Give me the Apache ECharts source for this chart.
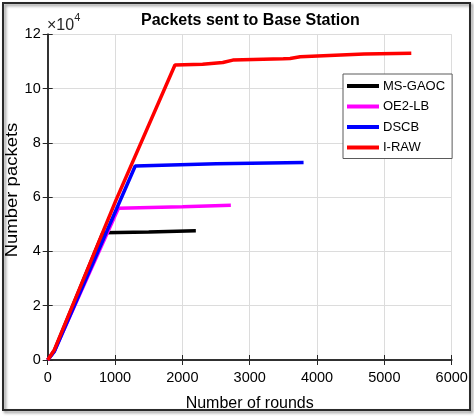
<!DOCTYPE html>
<html>
<head>
<meta charset="utf-8">
<script src="https://cdn.jsdelivr.net/npm/echarts@6/dist/echarts.min.js"></script>
<style>
  html, body { margin: 0; padding: 0; background: #fff; }
  #chart { width: 474px; height: 416px; }
</style>
</head>
<body>
<div id="chart"></div>
<script>
// Values: [rounds, packets]
const seriesNames = ["MS-GAOC", "OE2-LB", "DSCB", "I-RAW"];
const msGaoc = [[0, 0], [100, 3500], [820, 46900], [1500, 47200], [2200, 47600]];
const oe2Lb = [[0, 0], [100, 3400], [1050, 55900], [2000, 56500], [2720, 57000]];
const dscb = [[0, 0], [100, 3200], [1300, 71500], [2500, 72300], [3800, 72800]];
const iRaw = [
  [0, 0], [100, 3800], [1016, 59000], [1890, 108700], [2300, 109000],
  [2600, 109600], [2750, 110500], [3500, 111000], [3600, 111100],
  [3750, 111700], [4700, 112700], [5400, 113000]
];
const xTicks = [0, 1000, 2000, 3000, 4000, 5000, 6000];
const yTicks = [0, 20000, 40000, 60000, 80000, 100000, 120000];

const colors = ["#000000", "#ff00ff", "#0000ff", "#ff0000"];
const font = "Liberation Sans, Arial, sans-serif";
const axisColor = "#262626";

const chart = echarts.init(document.getElementById("chart"));

const lineSeries = [msGaoc, oe2Lb, dscb, iRaw].map((data, i) => ({
  name: seriesNames[i],
  type: "line",
  data: data,
  showSymbol: false,
  symbol: "none",
  lineStyle: { width: 3.5, color: colors[i] },
  itemStyle: { color: colors[i] },
  z: 2 + i,
}));

const option = {
  animation: false,
  backgroundColor: "#fff",
  title: {
    text: "Packets sent to Base Station",
    left: 141,
    top: 13,
    padding: 0,
    textStyle: { fontFamily: font, fontSize: 16, fontWeight: "bold", color: "#000" },
  },
  legend: {
    orient: "vertical",
    left: 343,
    top: 74,
    data: seriesNames,
    icon: "rect",
    itemWidth: 32,
    itemHeight: 4,
    itemGap: 4.5,
    itemStyle: { borderWidth: 0 },
    padding: [4, 7, 3, 4],
    backgroundColor: "#fff",
    borderColor: "#5a5a5a",
    borderWidth: 1,
    textStyle: { fontFamily: font, fontSize: 13, color: "#000", lineHeight: 16, padding: [0, 0, 0, -1] },
  },
  grid: { left: 47.7, right: 22.3, top: 34.3, bottom: 56, show: false, outerBoundsMode: "none", containLabel: false },
  xAxis: [
    {
      type: "value",
      min: 0,
      max: 6000,
      interval: 1000,
      name: "Number of rounds",
      nameLocation: "middle",
      nameGap: 36,
      nameMoveOverlap: false,
      nameTextStyle: { fontFamily: font, fontSize: 16, color: "#000" },
      axisLine: { show: true, lineStyle: { color: axisColor, width: 1.5 } },
      axisTick: { show: true, inside: true, length: 5, lineStyle: { color: axisColor } },
      axisLabel: {
        fontFamily: font, fontSize: 14.5, color: "#000", margin: 10,
        formatter: (v) => (xTicks.includes(v) ? String(v) : ""),
      },
      splitLine: { show: true, lineStyle: { color: "#dcdcdc" } },
    },
    {
      type: "value",
      position: "top",
      min: 0,
      max: 6000,
      interval: 1000,
      axisLine: { show: true, lineStyle: { color: axisColor, width: 1.5 } },
      axisTick: { show: true, inside: true, length: 5, lineStyle: { color: axisColor } },
      axisLabel: { show: false },
      splitLine: { show: false },
    },
  ],
  yAxis: [
    {
      type: "value",
      min: 0,
      max: 120000,
      interval: 20000,
      axisLine: { show: true, lineStyle: { color: axisColor, width: 1.5 } },
      axisTick: { show: true, inside: true, length: 5, lineStyle: { color: axisColor } },
      axisLabel: {
        fontFamily: font, fontSize: 14.5, color: "#000", margin: 7,
        formatter: (v) => (yTicks.includes(v) ? String(v / 10000) : ""),
      },
      splitLine: { show: true, lineStyle: { color: "#dcdcdc" } },
    },
    {
      type: "value",
      position: "right",
      min: 0,
      max: 120000,
      interval: 20000,
      axisLine: { show: true, lineStyle: { color: axisColor, width: 1.5 } },
      axisTick: { show: true, inside: true, length: 5, lineStyle: { color: axisColor } },
      axisLabel: { show: false },
      splitLine: { show: false },
    },
  ],
  graphic: [
    {
      type: "rect",
      shape: { x: 3, y: 3, width: 467, height: 407 },
      style: {
        fill: "none",
        stroke: "#2a2a2a",
        lineWidth: 2,
        shadowColor: "rgba(0,0,0,0.45)",
        shadowBlur: 3,
        shadowOffsetX: 2,
        shadowOffsetY: 2,
      },
      z: 100,
    },
    {
      type: "text",
      left: 47,
      top: 12,
      style: {
        text: "{a|\u00d710}{b|4}",
        rich: {
          a: { fontFamily: font, fontSize: 16, fill: "#262626", padding: [6, 0, 0, 0] },
          b: { fontFamily: font, fontSize: 11, fill: "#262626", verticalAlign: "top", padding: [0, 0, 8, 0] },
        },
      },
    },
    {
      // y axis title
      type: "text",
      x: 13,
      y: 190,
      rotation: Math.PI / 2,
      scaleY: 0.85,
      style: {
        text: "Number packets",
        fontFamily: font,
        fontSize: 18.5,
        fill: "#000",
        align: "center",
        verticalAlign: "middle",
      },
    },
  ],
  series: lineSeries,
};

chart.setOption(option);
</script>
</body>
</html>
